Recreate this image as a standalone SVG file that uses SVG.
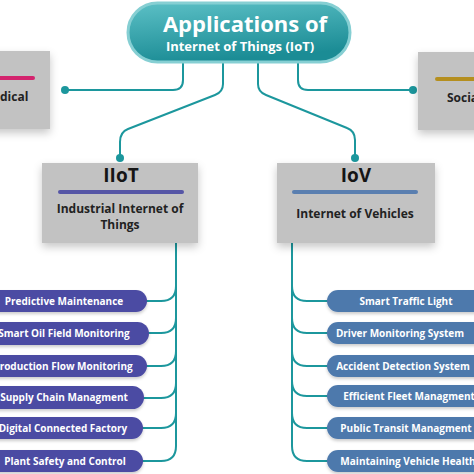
<svg xmlns="http://www.w3.org/2000/svg" width="474" height="474" viewBox="0 0 474 474">
<defs>
<linearGradient id="tg" x1="0" y1="0" x2="0.3" y2="1">
<stop offset="0" stop-color="#5cc0c6"/>
<stop offset="1" stop-color="#1b8c95"/>
</linearGradient>
<filter id="sh" x="-20%" y="-20%" width="140%" height="150%">
<feDropShadow dx="0" dy="4" stdDeviation="4" flood-color="#000" flood-opacity="0.22"/>
</filter>
<filter id="ps" x="-10%" y="-30%" width="120%" height="180%">
<feDropShadow dx="0" dy="2" stdDeviation="1.5" flood-color="#000" flood-opacity="0.2"/>
</filter>
</defs>
<style>
.conn{fill:none;stroke:#1c979d;stroke-width:2;stroke-linecap:round}
.dot{fill:#1c979d}
.box{fill:#c2c2c2;filter:url(#sh)}
.t{font-family:"Open Sans","DejaVu Sans",sans-serif;font-weight:700}
.hd{font-size:19px;fill:#151515;text-anchor:middle}
.sub{font-size:12px;fill:#222;text-anchor:middle}
.pl{fill:#4b4ba3;filter:url(#ps)}
.pr{fill:#4e79ac;filter:url(#ps)}
.pt{font-size:10px;fill:#fff;text-anchor:middle}
</style>

<g id="connectors">
<path class="conn" d="M183,62 V80 Q183,90 173,90 H65"/>
<path class="conn" d="M223,62 V84 Q223,92 215,95 L128,129 Q120,132 120,142 V158"/>
<path class="conn" d="M258,62 V84 Q258,92 266,95 L347,128 Q355,131 355,140 V158"/>
<path class="conn" d="M298,62 V80 Q298,90 308,90 H413"/>
<circle class="dot" cx="65" cy="90" r="4"/>
<circle class="dot" cx="120" cy="158" r="4"/>
<circle class="dot" cx="355" cy="158" r="4"/>
<circle class="dot" cx="413" cy="90" r="4"/>
<path class="conn" d="M176,243 V446 Q176,461 161,461 H140"/>
<path class="conn" d="M176,286 Q176,301 161,301 H140"/>
<path class="conn" d="M176,318 Q176,333 161,333 H140"/>
<path class="conn" d="M176,351 Q176,366 161,366 H140"/>
<path class="conn" d="M176,383 Q176,398 161,398 H140"/>
<path class="conn" d="M176,413 Q176,428 161,428 H140"/>
<path class="conn" d="M292,243 V446 Q292,461 307,461 H330"/>
<path class="conn" d="M292,286 Q292,301 307,301 H330"/>
<path class="conn" d="M292,318 Q292,333 307,333 H330"/>
<path class="conn" d="M292,351 Q292,366 307,366 H330"/>
<path class="conn" d="M292,381 Q292,396 307,396 H330"/>
<path class="conn" d="M292,413 Q292,428 307,428 H330"/>
</g>

<g id="title">
<rect x="128" y="3" width="222" height="59" rx="29.5" fill="url(#tg)" stroke="#86cfd3" stroke-width="3"/>
<text class="t" x="245" y="32" font-size="22" fill="#fff" text-anchor="middle">Applications of</text>
<text class="t" x="240" y="51" font-size="13" fill="#fff" text-anchor="middle">Internet of Things (IoT)</text>
</g>

<g id="medical">
<rect class="box" x="-10" y="51" width="60" height="78"/>
<line x1="-5" y1="78" x2="33" y2="78" stroke="#d3236d" stroke-width="4" stroke-linecap="round"/>
<text class="t" x="0" y="101" font-size="12" fill="#222">dical</text>
</g>

<g id="social">
<rect class="box" x="418" y="52" width="70" height="78"/>
<line x1="437" y1="79" x2="490" y2="79" stroke="#b58f1f" stroke-width="4" stroke-linecap="round"/>
<text class="t" x="447" y="102" font-size="12" fill="#222">Socia</text>
</g>

<g id="iiot">
<rect class="box" x="42" y="163" width="156" height="80"/>
<text class="t hd" x="121" y="182">IIoT</text>
<line x1="60" y1="192" x2="182" y2="192" stroke="#5656a6" stroke-width="4" stroke-linecap="round"/>
<text class="t sub" x="120" y="213">Industrial Internet of</text>
<text class="t sub" x="120" y="229">Things</text>
</g>

<g id="iov">
<rect class="box" x="277" y="163" width="158" height="80"/>
<text class="t hd" x="356" y="182">IoV</text>
<line x1="294" y1="192" x2="416" y2="192" stroke="#5a7fb0" stroke-width="4" stroke-linecap="round"/>
<text class="t sub" x="355" y="218">Internet of Vehicles</text>
</g>

<g id="iiot-apps">
<g id="predictive"><rect class="pl" x="-25" y="290" width="172" height="22" rx="11"/><text class="t pt" x="64" y="305">Predictive Maintenance</text></g>
<g id="oilfield"><rect class="pl" x="-25" y="322" width="174" height="23" rx="11.5"/><text class="t pt" x="64" y="337">Smart Oil Field Monitoring</text></g>
<g id="production"><rect class="pl" x="-25" y="355" width="172" height="22" rx="11"/><text class="t pt" x="63" y="370">Production Flow Monitoring</text></g>
<g id="supply"><rect class="pl" x="-25" y="386" width="169" height="23" rx="11.5"/><text class="t pt" x="64" y="401">Supply Chain Managment</text></g>
<g id="digital"><rect class="pl" x="-25" y="417" width="168" height="22" rx="11"/><text class="t pt" x="63" y="432">Digital Connected Factory</text></g>
<g id="plant"><rect class="pl" x="-25" y="450" width="168" height="22" rx="11"/><text class="t pt" x="65" y="465">Plant Safety and Control</text></g>
</g>

<g id="iov-apps">
<g id="traffic"><rect class="pr" x="327" y="290" width="180" height="22" rx="11"/><text class="t pt" x="406" y="305">Smart Traffic Light</text></g>
<g id="driver"><rect class="pr" x="327" y="322" width="180" height="22" rx="11"/><text class="t pt" x="400" y="337">Driver Monitoring System</text></g>
<g id="accident"><rect class="pr" x="327" y="355" width="180" height="22" rx="11"/><text class="t pt" x="403" y="370">Accident Detection System</text></g>
<g id="fleet"><rect class="pr" x="327" y="385" width="180" height="22" rx="11"/><text class="t pt" x="409" y="400">Efficient Fleet Managment</text></g>
<g id="transit"><rect class="pr" x="327" y="417" width="180" height="22" rx="11"/><text class="t pt" x="406" y="432">Public Transit Managment</text></g>
<g id="health"><rect class="pr" x="327" y="450" width="180" height="22" rx="11"/><text class="t pt" x="408" y="465">Maintaining Vehicle Health</text></g>
</g>
</svg>
